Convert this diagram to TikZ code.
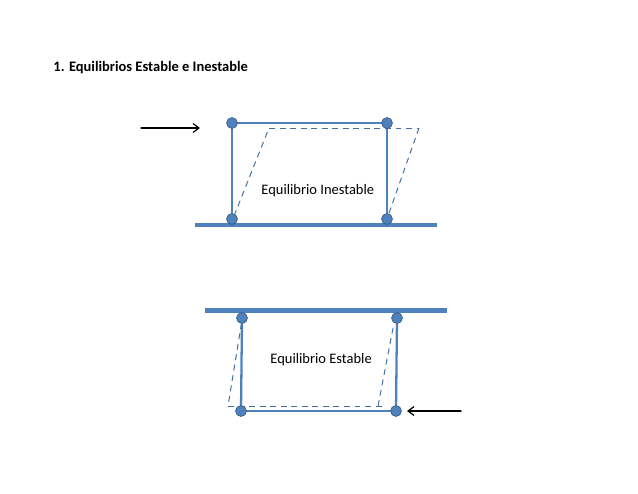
\documentclass[tikz,border=0pt]{standalone}
\usepackage{fontspec}
\setmainfont{Carlito}
\usepackage{tkz-euclide}
\usetikzlibrary{arrows.meta, calc}
\definecolor{marco}{RGB}{79,129,189}
\definecolor{borde}{RGB}{56,93,138}
\tikzset{
    barra/.style={draw=marco, line width=1.3pt, line cap=butt},
    viga/.style={draw=marco, line width=2.6pt, line cap=butt},
    deformada/.style={draw=marco!85!black, line width=0.55pt, line cap=butt, dash pattern=on 3.4pt off 2.6pt},
    fuerza/.style={draw=black, line width=0.7pt, -{Straight Barb[length=3.4pt,width=5pt]}},
    rotulo/.style={font=\fontsize{8.25}{10}\selectfont, inner sep=0pt, anchor=west}
}
\begin{document}
\begin{tikzpicture}[x=0.02cm,y=-0.02cm]
    \useasboundingbox (0,0) rectangle (638,493);
    \tkzSetUpPoint[shape=circle, size=6.2pt, fill=marco, color=borde, line width=0.5pt]
    % inestable
    \tkzDefPoint(232,123){a_1}
    \tkzDefPoint(387,123){a_2}
    \tkzDefPoint(232,219){a_3}
    \tkzDefPoint(387,219){a_4}
    \tkzDefPoint(195,225){a_5}
    \tkzDefPoint(437,225){a_6}
    \tkzDefPoint(234,216){a_7}
    \tkzDefPoint(269,128){a_8}
    \tkzDefPoint(419,128){a_9}
    \tkzDefPoint(388,216){a_10}
    \tkzDefPoint(141,128){a_11}
    \tkzDefPoint(200,128){a_12}
    % estable
    \tkzDefPoint(242,318){b_1}
    \tkzDefPoint(397,318){b_2}
    \tkzDefPoint(241,411){b_3}
    \tkzDefPoint(396,411){b_4}
    \tkzDefPoint(205,310.5){b_5}
    \tkzDefPoint(447,310.5){b_6}
    \tkzDefPoint(241.5,323){b_7}
    \tkzDefPoint(228,406){b_8}
    \tkzDefPoint(383,406){b_9}
    \tkzDefPoint(378,406){b_10}
    \tkzDefPoint(394,323){b_11}
    \tkzDefPoint(461,411){b_12}
    \tkzDefPoint(407,411){b_13}
    \tkzDrawSegments[viga](a_5,a_6 b_5,b_6)
    \tkzDrawSegments[barra](a_3,a_1 a_1,a_2 a_2,a_4 b_1,b_3 b_3,b_4 b_4,b_2)
    \tkzDrawSegments[deformada](a_7,a_8 a_8,a_9 a_9,a_10 b_7,b_8 b_8,b_9 b_10,b_11)
    \tkzDrawSegments[fuerza](a_11,a_12 b_12,b_13)
    \tkzDrawPoints(a_1,a_2,a_3,a_4,b_1,b_2,b_3,b_4)
    \node[rotulo] (titulo) at (53,67.5) {\textbf{1. Equilibrios Estable e Inestable}};
    \node[rotulo] (inestable) at (261,190.5) {Equilibrio Inestable};
    \node[rotulo] (estable) at (270,359.5) {Equilibrio Estable};
\end{tikzpicture}
\end{document}
